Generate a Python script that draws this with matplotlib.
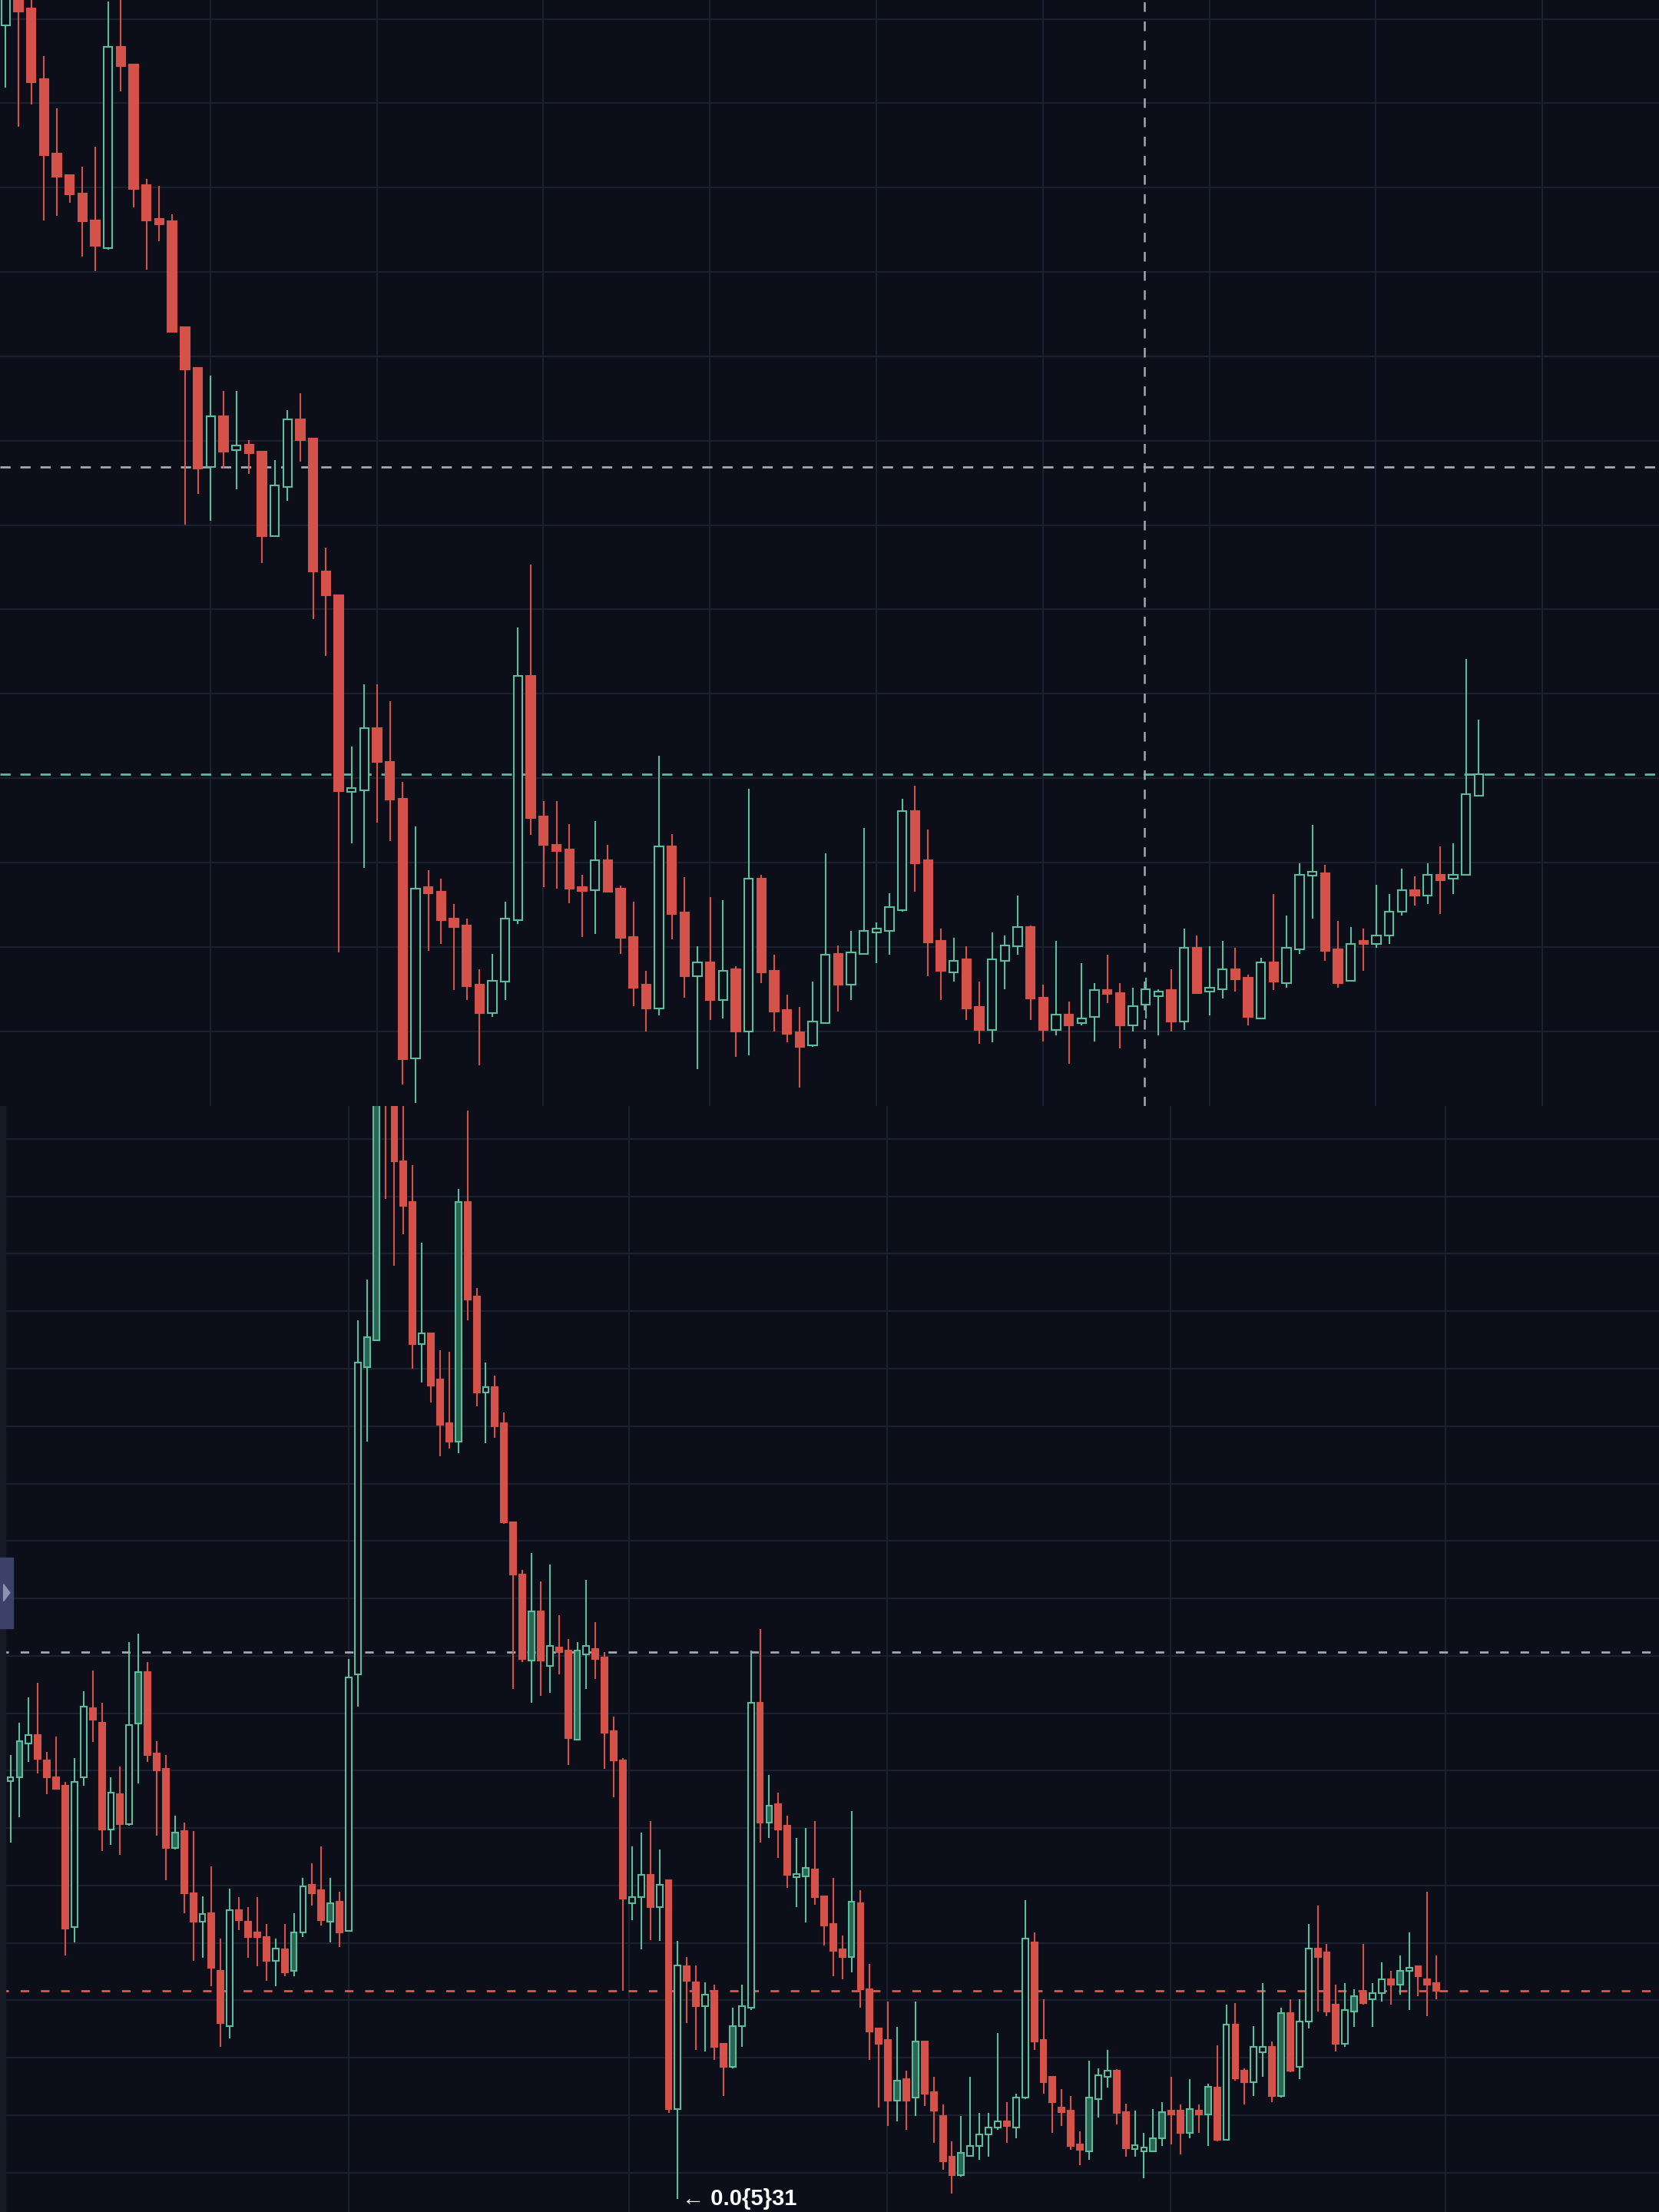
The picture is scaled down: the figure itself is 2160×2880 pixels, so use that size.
import numpy as np
import matplotlib.pyplot as plt
from matplotlib.patches import Rectangle, Polygon

BG = '#0c0f19'
GRID = '#1b2130'
RED = '#d4524a'
TEAL = '#5cbd9c'
TEAL_FILL = '#2b6554'
DASH_GRAY = '#a4a8b2'
DASH_TEAL = '#5fb79e'

# upper pane candles (chart price units)
top_open = [982, 1010, 994, 944, 891, 876, 863, 844, 824, 967,
            954, 869, 845, 843, 768, 739, 669, 705, 681, 685,
            680, 620, 655, 703, 689, 595, 578, 439, 440, 484,
            460, 434, 250, 371, 368, 349, 344, 302, 282, 304,
            348, 521, 421, 401, 398, 371, 369, 390, 370, 336,
            302, 285, 400, 353, 308, 318, 291, 313, 269, 377,
            312, 284, 268, 259, 275, 324, 302, 324, 340, 340,
            355, 425, 390, 333, 311, 320, 286, 270, 319, 329,
            343, 293, 270, 281, 275, 279, 298, 296, 273, 288,
            294, 298, 276, 328, 298, 299, 313, 307, 278, 318,
            303, 327, 380, 381, 327, 305, 333, 331, 337, 354,
            369, 365, 380, 377, 380, 436]
top_high = [1020, 1020, 1003, 960, 923, 876, 882, 896, 999, 1002,
            954, 873, 868, 848, 768, 739, 734, 723, 723, 688,
            680, 674, 709, 721, 689, 612, 578, 471, 515, 515,
            503, 446, 414, 383, 377, 359, 349, 313, 324, 361,
            555, 600, 432, 432, 416, 380, 418, 401, 372, 361,
            312, 464, 409, 378, 329, 364, 362, 315, 441, 380,
            323, 295, 286, 304, 395, 330, 340, 413, 346, 367,
            434, 443, 412, 342, 335, 329, 304, 339, 337, 365,
            344, 302, 333, 290, 317, 303, 323, 303, 300, 307,
            299, 313, 342, 337, 329, 333, 328, 309, 321, 366,
            351, 388, 415, 387, 347, 343, 342, 373, 366, 384,
            379, 388, 400, 402, 533, 490]
top_low = [938, 910, 926, 844, 847, 856, 818, 808, 823, 935,
           853, 809, 829, 764, 628, 650, 631, 668, 653, 664,
           601, 620, 645, 673, 561, 535, 325, 402, 385, 417,
           404, 231, 218, 326, 331, 298, 291, 245, 279, 291,
           345, 408, 371, 370, 360, 336, 338, 368, 324, 287,
           269, 280, 334, 293, 242, 277, 278, 251, 252, 303,
           269, 261, 229, 258, 274, 283, 291, 324, 317, 323,
           354, 368, 308, 291, 304, 277, 260, 261, 299, 323,
           277, 262, 266, 246, 273, 262, 289, 257, 269, 278,
           266, 269, 270, 296, 280, 292, 297, 273, 278, 298,
           300, 324, 349, 319, 300, 304, 312, 328, 331, 351,
           358, 359, 352, 366, 380, 436]
top_close = [1005, 992, 942, 890, 875, 862, 843, 826, 967, 953,
             866, 844, 841, 765, 738, 668, 705, 680, 684, 679,
             620, 656, 703, 688, 595, 578, 439, 441, 484, 460,
             433, 249, 370, 367, 348, 343, 301, 282, 305, 349,
             521, 420, 401, 397, 370, 369, 390, 368, 335, 300,
             285, 400, 352, 308, 318, 291, 312, 269, 377, 311,
             283, 267, 258, 276, 323, 302, 325, 340, 341, 357,
             425, 388, 332, 312, 319, 285, 270, 320, 330, 343,
             292, 270, 281, 273, 278, 298, 296, 273, 287, 299,
             297, 276, 328, 296, 299, 313, 306, 279, 318, 304,
             328, 380, 381, 326, 303, 331, 331, 337, 354, 369,
             365, 380, 376, 380, 437, 451]

# lower pane candles
bot_open = [738, 740, 764, 770, 752, 740, 734, 634, 740, 789,
            779, 703, 728, 707, 778, 815, 757, 746, 690, 702,
            658, 638, 644, 603, 564, 646, 638, 630, 627, 610,
            618, 603, 630, 664, 660, 638, 652, 631, 813, 1031,
            1050, 1280, 1230, 1177, 1148, 1047, 1055, 1022, 991, 978,
            1148, 1081, 1013, 1017, 991, 921, 884, 823, 858, 819,
            832, 830, 767, 827, 831, 825, 773, 752, 651, 655,
            671, 648, 667, 505, 606, 595, 578, 587, 551, 535,
            564, 577, 793, 708, 721, 706, 670, 670, 675, 656,
            636, 618, 613, 651, 590, 562, 554, 511, 526, 513,
            553, 517, 500, 471, 458, 472, 479, 487, 492, 496,
            492, 513, 623, 554, 528, 506, 504, 480, 475, 512,
            528, 532, 503, 477, 476, 475, 484, 504, 504, 488,
            504, 501, 520, 483, 565, 532, 524, 545, 549, 514,
            573, 535, 567, 619, 616, 579, 551, 574, 587, 583,
            587, 597, 593, 603, 606, 597, 594]
bot_high = [756, 779, 797, 807, 758, 769, 737, 754, 801, 816,
            793, 740, 748, 836, 842, 822, 766, 756, 713, 708,
            702, 656, 677, 626, 661, 655, 648, 655, 636, 626,
            636, 644, 669, 679, 691, 669, 659, 824, 1064, 1093,
            1260, 1300, 1240, 1220, 1174, 1119, 1055, 1043, 1042, 1157,
            1213, 1087, 1034, 1025, 999, 921, 887, 899, 879, 891,
            855, 838, 836, 880, 850, 829, 783, 754, 691, 701,
            709, 689, 668, 624, 613, 607, 595, 593, 552, 577,
            593, 830, 845, 742, 729, 713, 697, 704, 709, 656,
            669, 628, 716, 660, 608, 562, 581, 563, 532, 581,
            553, 528, 508, 482, 500, 528, 502, 502, 559, 510,
            516, 653, 630, 583, 528, 519, 514, 489, 539, 534,
            547, 533, 509, 504, 488, 505, 510, 528, 508, 526,
            508, 523, 550, 579, 580, 534, 564, 594, 553, 577,
            583, 583, 636, 649, 622, 593, 594, 590, 622, 594,
            609, 603, 614, 630, 606, 659, 614]
bot_low = [694, 712, 751, 743, 728, 732, 614, 623, 734, 765,
           688, 692, 685, 706, 736, 751, 699, 667, 689, 644,
           610, 612, 592, 549, 555, 632, 612, 606, 596, 592,
           599, 599, 627, 649, 635, 623, 620, 631, 790, 978,
           1050, 1150, 1103, 1125, 1030, 1020, 1006, 968, 973, 970,
           1064, 1003, 977, 981, 920, 803, 822, 793, 798, 800,
           813, 749, 767, 803, 810, 746, 726, 589, 639, 618,
           625, 624, 502, 441, 566, 547, 546, 540, 514, 534,
           549, 575, 694, 697, 683, 662, 648, 637, 650, 621,
           599, 597, 602, 577, 540, 506, 493, 496, 490, 500,
           507, 481, 462, 445, 457, 472, 469, 471, 490, 481,
           484, 512, 547, 516, 488, 493, 476, 465, 469, 499,
           520, 494, 471, 471, 456, 475, 479, 480, 473, 484,
           488, 479, 482, 483, 525, 508, 514, 528, 510, 513,
           531, 526, 562, 574, 571, 546, 549, 563, 579, 563,
           581, 579, 586, 575, 585, 571, 583]
bot_close = [740, 766, 770, 753, 740, 732, 633, 737, 790, 781,
             703, 729, 707, 777, 815, 756, 745, 690, 701, 658,
             638, 643, 605, 566, 646, 639, 627, 627, 610, 619,
             602, 630, 663, 658, 639, 651, 630, 811, 1034, 1052,
             1240, 1220, 1177, 1145, 1047, 1055, 1018, 990, 978, 1148,
             1079, 1013, 1017, 989, 921, 884, 824, 858, 823, 833,
             829, 768, 830, 833, 824, 772, 752, 654, 655, 671,
             648, 664, 505, 607, 596, 578, 586, 549, 535, 564,
             578, 793, 708, 720, 703, 671, 671, 676, 655, 635,
             617, 613, 652, 590, 560, 551, 511, 525, 511, 553,
             516, 504, 468, 458, 474, 479, 487, 492, 496, 493,
             513, 626, 553, 524, 510, 503, 479, 476, 513, 529,
             532, 502, 477, 479, 477, 484, 503, 501, 488, 505,
             501, 521, 483, 565, 527, 524, 549, 549, 514, 573,
             532, 567, 619, 613, 574, 551, 575, 585, 580, 587,
             597, 593, 603, 605, 599, 593, 589]
# solid (not hollow) rising bodies in the lower pane
bot_solid = [1, 14, 18, 31, 35, 39, 40, 49, 57, 62, 79, 83, 87, 92, 97,
             99, 104, 118, 125, 126, 129, 131, 139, 147, 152]

low_label = '← 0.0{5}31'


def draw_candles(ax, o, h, l, c, width, solid=()):
    o, h, l, c = (np.asarray(v, dtype=float) for v in (o, h, l, c))
    x = np.arange(len(o))
    up = c >= o
    col = np.where(up, TEAL, RED)
    ax.vlines(x, l, h, colors=col, lw=1.5, zorder=2)
    size = np.abs(c - o)
    hgt = np.maximum(size, 2.6)
    bottom = np.where(size < 2.6, (o + c) / 2 - 1.3, np.minimum(o, c))
    face = [RED if not u else (TEAL_FILL if i in solid else BG)
            for i, u in enumerate(up)]
    ax.bar(x, hgt, width=width, bottom=bottom, color=face,
           edgecolor=col, linewidth=1.5, zorder=3)


fig = plt.figure(figsize=(21.6, 28.8), dpi=100, facecolor=BG)
ax1 = fig.add_axes([0, 0.5, 1, 0.5])
ax2 = fig.add_axes([0, 0, 1, 0.5])
for ax in (ax1, ax2):
    ax.set_facecolor(BG)
    for s in ax.spines.values():
        s.set_visible(False)
    ax.tick_params(length=0, labelbottom=False, labelleft=False)
    ax.set_axisbelow(True)
    ax.grid(True, color=GRID, lw=1.6)

# upper pane
draw_candles(ax1, top_open, top_high, top_low, top_close, 0.68)
ax1.set_xlim(-0.44, 129.07)
ax1.set_ylim(216, 1000)
ax1.set_xticks(15.97 + 13 * np.arange(9))
ax1.set_yticks(269 + 59.8 * np.arange(13))
ax1.axhline(669, color=DASH_GRAY, lw=2, dashes=(4.8, 4.6), zorder=1.5)
ax1.axhline(top_close[-1], color=DASH_TEAL, lw=2, dashes=(4.8, 4.6), zorder=1.5)
ax1.axvline(88.9, color=DASH_GRAY, lw=1.8, dashes=(5, 5), zorder=1.5)

# lower pane
draw_candles(ax2, bot_open, bot_high, bot_low, bot_close, 0.66, bot_solid)
ax2.set_xlim(-1.14, 180.34)
ax2.set_ylim(432, 1216)
ax2.set_xticks([36.98, 67.7, 95.9, 126.9, 157.0])
ax2.set_yticks(460 + 40.7 * np.arange(19))
ax2.axhline(829, color=DASH_GRAY, lw=2, dashes=(4, 5.5), zorder=1.5)
ax2.axhline(bot_close[-1], color='#d65a52', lw=2, dashes=(4, 5.5), zorder=1.5)

imin = int(np.argmin(bot_low))
ax2.text(imin + 0.5, bot_low[imin], low_label, color='white', fontsize=21,
         fontweight='bold', ha='left', va='center',
         family=['Liberation Sans', 'DejaVu Sans'], zorder=5)

# left edge decorations of the lower pane
fig.add_artist(Rectangle((0, 0), 4 / 1176, 0.5, transform=fig.transFigure,
                         color='#171b27', zorder=6))
fig.add_artist(Rectangle((0, 1 - 1154 / 1568), 9.5 / 1176, 50 / 1568,
                         transform=fig.transFigure, color='#3c4169', zorder=7))
yc = 1 - 1129 / 1568
fig.add_artist(Polygon([(2.5 / 1176, yc + 6 / 1568), (2.5 / 1176, yc - 6 / 1568),
                        (7 / 1176, yc)], closed=True, transform=fig.transFigure,
                       color='#8d91b3', zorder=8))
ax2.plot([0.0], [(1568 - 1077) / 784], 'o', transform=ax2.transAxes,
         ms=6, color=RED, clip_on=False, zorder=9)

fig.savefig('out.png', dpi=100, facecolor=BG)
plt.close(fig)
